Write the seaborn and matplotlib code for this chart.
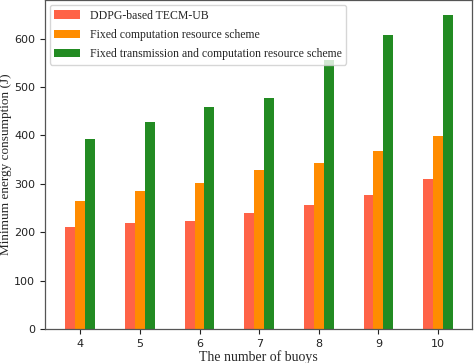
import matplotlib
matplotlib.use("Agg")
import matplotlib.pyplot as plt
import seaborn as sns
import pandas as pd

buoys = [4, 5, 6, 7, 8, 9, 10]
ddpg = [211, 218, 223, 240, 256, 276, 309]
fixed_comp = [265, 285, 302, 328, 343, 368, 398]
fixed_trans_comp = [393, 428, 458, 477, 556, 607, 649]
series_names = ["DDPG-based TECM-UB", "Fixed computation resource scheme",
                "Fixed transmission and computation resource scheme"]
colors = ["#FF6347", "#FF8C00", "#228B22"]

rows = []
for name, vals in zip(series_names, [ddpg, fixed_comp, fixed_trans_comp]):
    for b, v in zip(buoys, vals):
        rows.append({"buoys": str(b), "energy": v, "scheme": name})
df = pd.DataFrame(rows)

sns.set_style("ticks")
fig = plt.figure(figsize=(4.74, 3.63), dpi=100)
ax = fig.add_axes([0.095, 0.094, 0.901, 0.906])
sns.barplot(data=df, x="buoys", y="energy", hue="scheme", palette=colors,
            width=0.5, ax=ax, saturation=1, order=[str(b) for b in buoys],
            hue_order=series_names, linewidth=0, edgecolor="none")
ax.set_xlim(-0.59, 6.57)
ax.set_ylim(0, 680)
ax.set_yticks([0, 100, 200, 300, 400, 500, 600])
ax.tick_params(labelsize=8, colors="#222222")
serif = ["Liberation Serif", "DejaVu Serif"]
ax.set_xlabel("The number of buoys", family=serif, fontsize=10, labelpad=1)
ax.set_ylabel("Minimum energy consumption (J)", family=serif, fontsize=9.5)
ax.yaxis.set_label_coords(-0.078, 0.5)
for s in ax.spines.values():
    s.set_color("#555555")
    s.set_linewidth(0.9)
leg = ax.legend(loc="upper left", prop={"family": serif, "size": 8.5},
                frameon=True, bbox_to_anchor=(0.005, 0.992), borderaxespad=0.2,
                handlelength=2.2, labelspacing=0.6)
leg.set_title(None)
fig.savefig("out.png", dpi=100)
